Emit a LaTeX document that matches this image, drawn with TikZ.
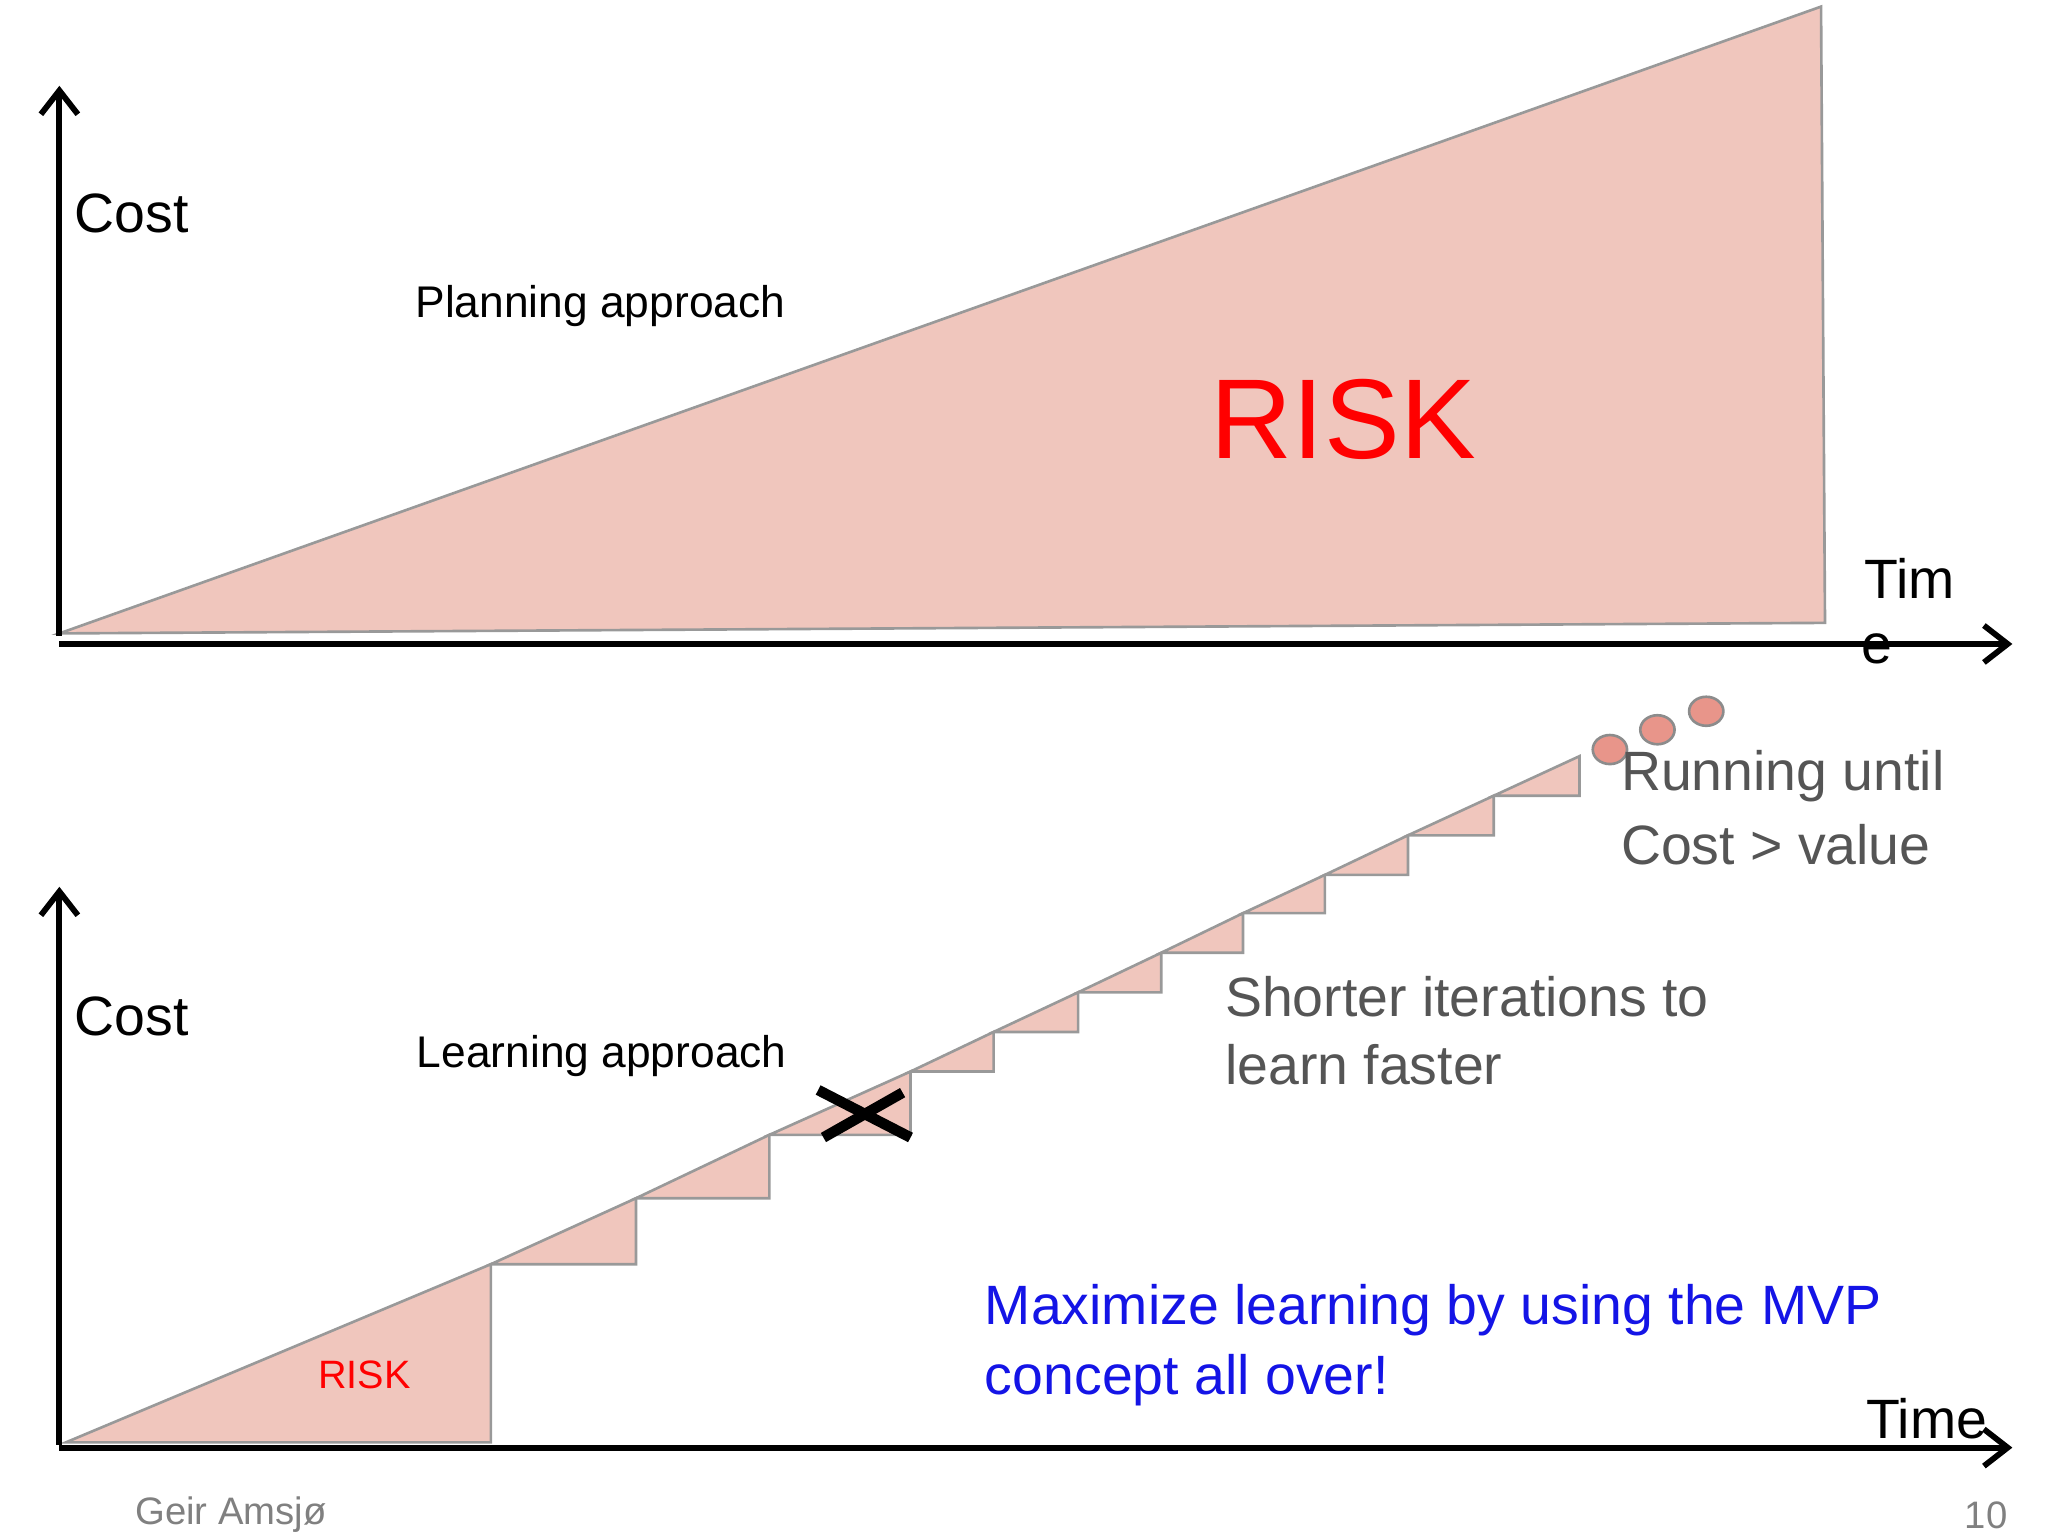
\documentclass[tikz,border=0pt]{standalone}
\usepackage{fontspec}
\setmainfont{Liberation Sans}
\definecolor{riskfill}{HTML}{F0C6BD}
\definecolor{dotfill}{HTML}{E8958A}
\definecolor{txtgray}{HTML}{555555}
\definecolor{mvpblue}{HTML}{1414E6}
\begin{document}
\begin{tikzpicture}[x=0.5pt,y=-0.5pt,
  axis/.style={line width=2.2pt,black,-{Straight Barb[length=9pt,width=14pt]}},
  riskshape/.style={fill=riskfill,draw=gray!80,line width=1pt},
  dot/.style={ellipse,minimum width=13pt,minimum height=11pt,inner sep=0pt,fill=dotfill,draw=gray!90,line width=1pt},
  lbl/.style={inner sep=0pt},
  big/.style={lbl,font=\fontsize{21}{25}\selectfont},
  mid/.style={lbl,font=\fontsize{16.8}{20}\selectfont},
  gray21/.style={big,text=txtgray,align=left,anchor=west}]
\usetikzlibrary{arrows.meta,shapes.geometric}
\useasboundingbox (0,0) rectangle (1552,1164);
% top
\draw[riskshape] (45,480) -- (1380,5) -- (1383,472) -- cycle;
\coordinate (t0) at (45,488); \coordinate (t1) at (1525,488);
\coordinate (v0) at (45,482); \coordinate (v1) at (45,65);
\draw[axis] (t0) -- (t1);
\draw[axis] (v0) -- (v1);
\node[big] (cost1) at (100,162) {Cost};
\node[mid] (plan) at (455,232) {Planning approach};
\node[lbl,text=red,font=\fontsize{43}{50}\selectfont] (risk1) at (1018,318) {RISK};
\node[big] (tim) at (1447,438) {Tim};
\node[big] (e) at (1422,492) {e};
% bottom
\draw[riskshape] (50,1093) -- (372,958) -- (372,1093) -- cycle;
\foreach \xa/\ya/\xb/\yb in {372/958/482/908, 482/908/583/860, 583/860/690/812, 690/812/753/782, 753/782/817/752, 817/752/880/722, 880/722/942/692, 942/692/1004/663, 1004/663/1067/633, 1067/633/1132/603, 1132/603/1197/573}
  \draw[riskshape] (\xa,\ya) -- (\xb,\yb) -- (\xb,\ya) -- cycle;
\draw[line width=4pt] (620,826) -- (690,862);
\draw[line width=4pt] (624,862) -- (684,828);
\node[dot] (d1) at (1220,568) {};
\node[dot] (d2) at (1256,553) {};
\node[dot] (d3) at (1293,539) {};
\coordinate (b0) at (45,1097); \coordinate (b1) at (1525,1097);
\coordinate (w0) at (45,1095); \coordinate (w1) at (45,672);
\draw[axis] (b0) -- (b1);
\draw[axis] (w0) -- (w1);
\node[big] (cost2) at (100,770) {Cost};
\node[mid] (learn) at (456,800) {Learning approach};
\node[lbl,text=red,font=\fontsize{15}{18}\selectfont] (risk2) at (276,1042) {RISK};
\node[gray21] (run1) at (1228,588) {Running until};
\node[gray21] (run2) at (1228,640) {Cost > value};
\node[gray21] (sh1) at (928,755) {Shorter iterations to};
\node[gray21] (sh2) at (928,807) {learn faster};
\node[big,text=mvpblue,anchor=west] (mvp1) at (746,993) {Maximize learning by using the MVP};
\node[big,text=mvpblue,anchor=west] (mvp2) at (746,1046) {concept all over!};
\node[big] (time2) at (1460,1075) {Time};
\node[lbl,text=gray,font=\fontsize{14.5}{17}\selectfont] (auth) at (175,1148) {Geir Amsjø};
\node[lbl,text=gray,font=\fontsize{14.5}{17}\selectfont] (pg) at (1505,1148) {10};
\end{tikzpicture}
\end{document}
